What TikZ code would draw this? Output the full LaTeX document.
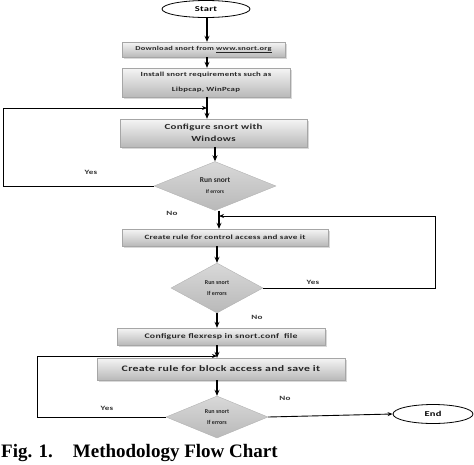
\documentclass[tikz,border=0pt]{standalone}
\usepackage{fontspec}
\setmainfont{Liberation Serif}
\newfontfamily\boxfont[FakeStretch=1.4,LetterSpace=4]{Carlito}
\newfontfamily\plainfont{Carlito}
\usetikzlibrary{shapes.geometric,arrows.meta,shadows}
\tikzset{
  x=1pt,y=-1pt,
  procbox/.style={rectangle,draw=gray!70,top color=gray!8,bottom color=gray!55,
    drop shadow={shadow xshift=2pt,shadow yshift=-2pt,opacity=0.3},
    inner sep=1pt,align=center,text=black!85},
  decide/.style={diamond,draw=gray!60,top color=gray!30,bottom color=gray!55,
    inner sep=0pt,align=center,text=black!85},
  term/.style={ellipse,draw=black,thick,fill=white,inner sep=0pt},
  flow/.style={-{Stealth[length=6pt,width=5pt]},line width=1.8pt},
  loopline/.style={line width=0.9pt},
  looparrow/.style={-{Stealth[length=5pt,width=4pt]},line width=0.9pt},
  lbl/.style={font=\boxfont\bfseries\fontsize{6.5}{7}\selectfont,text=black!80}
}
\begin{document}
\begin{tikzpicture}
\useasboundingbox (0,0) rectangle (474,464);
\node[term,minimum width=88pt,minimum height=17pt,font=\boxfont\bfseries\fontsize{7.5}{9}\selectfont] (start) at (206,9) {Start};
\node[procbox,minimum width=163pt,minimum height=15pt,font=\boxfont\bfseries\fontsize{6}{7}\selectfont] (b1) at (203.5,49.5) {Download snort from \underline{www.snort.org}};
\node[procbox,minimum width=168pt,minimum height=29pt,font=\boxfont\bfseries\fontsize{6.3}{15}\selectfont] (b2) at (206,82.5) {Install snort requirements such as\\ Libpcap, WinPcap};
\node[procbox,minimum width=187pt,minimum height=28pt,font=\boxfont\bfseries\fontsize{7.8}{12}\selectfont] (b3) at (213.5,133) {Configure snort with\\ Windows};
\node[decide,minimum width=122pt,minimum height=49pt,font=\plainfont\bfseries\fontsize{7.5}{12}\selectfont] (d1) at (215,186) {Run snort\\[-1pt] {\fontsize{5.5}{6}\selectfont If errors}};
\node[procbox,minimum width=206pt,minimum height=17pt,font=\boxfont\bfseries\fontsize{6.5}{7}\selectfont] (b4) at (225,237.5) {Create rule for control access and save it};
\node[decide,minimum width=92pt,minimum height=50pt,font=\plainfont\bfseries\fontsize{6}{11}\selectfont] (d2) at (217,288) {Run snort\\ If errors};
\node[procbox,minimum width=208pt,minimum height=17pt,font=\boxfont\bfseries\fontsize{7}{8}\selectfont] (b5) at (221,336.5) {Configure flexresp in snort.conf\ \ file};
\node[procbox,minimum width=248pt,minimum height=22pt,font=\boxfont\bfseries\fontsize{8.4}{9}\selectfont] (b6) at (221,369) {Create rule for block access and save it};
\node[decide,minimum width=102pt,minimum height=42pt,font=\plainfont\bfseries\fontsize{6}{11}\selectfont] (d3) at (217,417) {Run snort\\ If errors};
\node[term,minimum width=80pt,minimum height=19pt,font=\boxfont\bfseries\fontsize{7.5}{8}\selectfont] (end) at (433,414) {End};

\coordinate (j1) at (207,108);
\coordinate (j2) at (219,216);
\coordinate (j3) at (217,356);
\coordinate (c1a) at (3,186);
\coordinate (c1b) at (3,108);
\coordinate (c2a) at (435,288);
\coordinate (c2b) at (435,216);
\coordinate (c3a) at (37,417);
\coordinate (c3b) at (37,356);

\draw[flow] (start.south -| 207,0) -- (b1.north -| 207,0);
\draw[flow] (b1.south -| 207,0) -- (b2.north -| 207,0);
\draw[flow] (b2.south -| 207,0) -- (b3.north -| 207,0);
\draw[flow] (b3.south -| d1.north) -- (d1.north);
\draw[flow] (d1.south -| j2) -- (b4.north -| j2);
\draw[flow] (b4.south -| d2.north) -- (d2.north);
\draw[flow] (d2.south) -- (b5.north -| d2.south);
\draw[flow,line width=1.2pt] (b5.south -| j3) -- (b6.north -| j3);
\draw[flow,line width=1.2pt] (b6.south -| d3.north) -- (d3.north);

\draw[loopline] (d1.west) -- (c1a) -- (c1b);
\draw[looparrow] (c1b) -- (j1);
\draw[loopline] (d2.east) -- (c2a) -- (c2b);
\draw[looparrow] (c2b) -- (j2);
\draw[loopline] (d3.west) -- (c3a) -- (c3b);
\draw[looparrow] (c3b) -- (j3);
\draw[looparrow] (d3.east) -- (end.west);

\node[lbl] (y1) at (91,172) {Yes};
\node[lbl] (n1) at (172,213) {No};
\node[lbl] (y2) at (313,282) {Yes};
\node[lbl] (n2) at (257,317) {No};
\node[lbl] (y3) at (107,408) {Yes};
\node[lbl] (n3) at (285,398) {No};

\node[anchor=base west,inner sep=0pt,font=\bfseries\fontsize{19}{22}\selectfont] (cap) at (1,457) {Fig. 1.\hspace{20pt}Methodology Flow Chart};
\end{tikzpicture}
\end{document}
